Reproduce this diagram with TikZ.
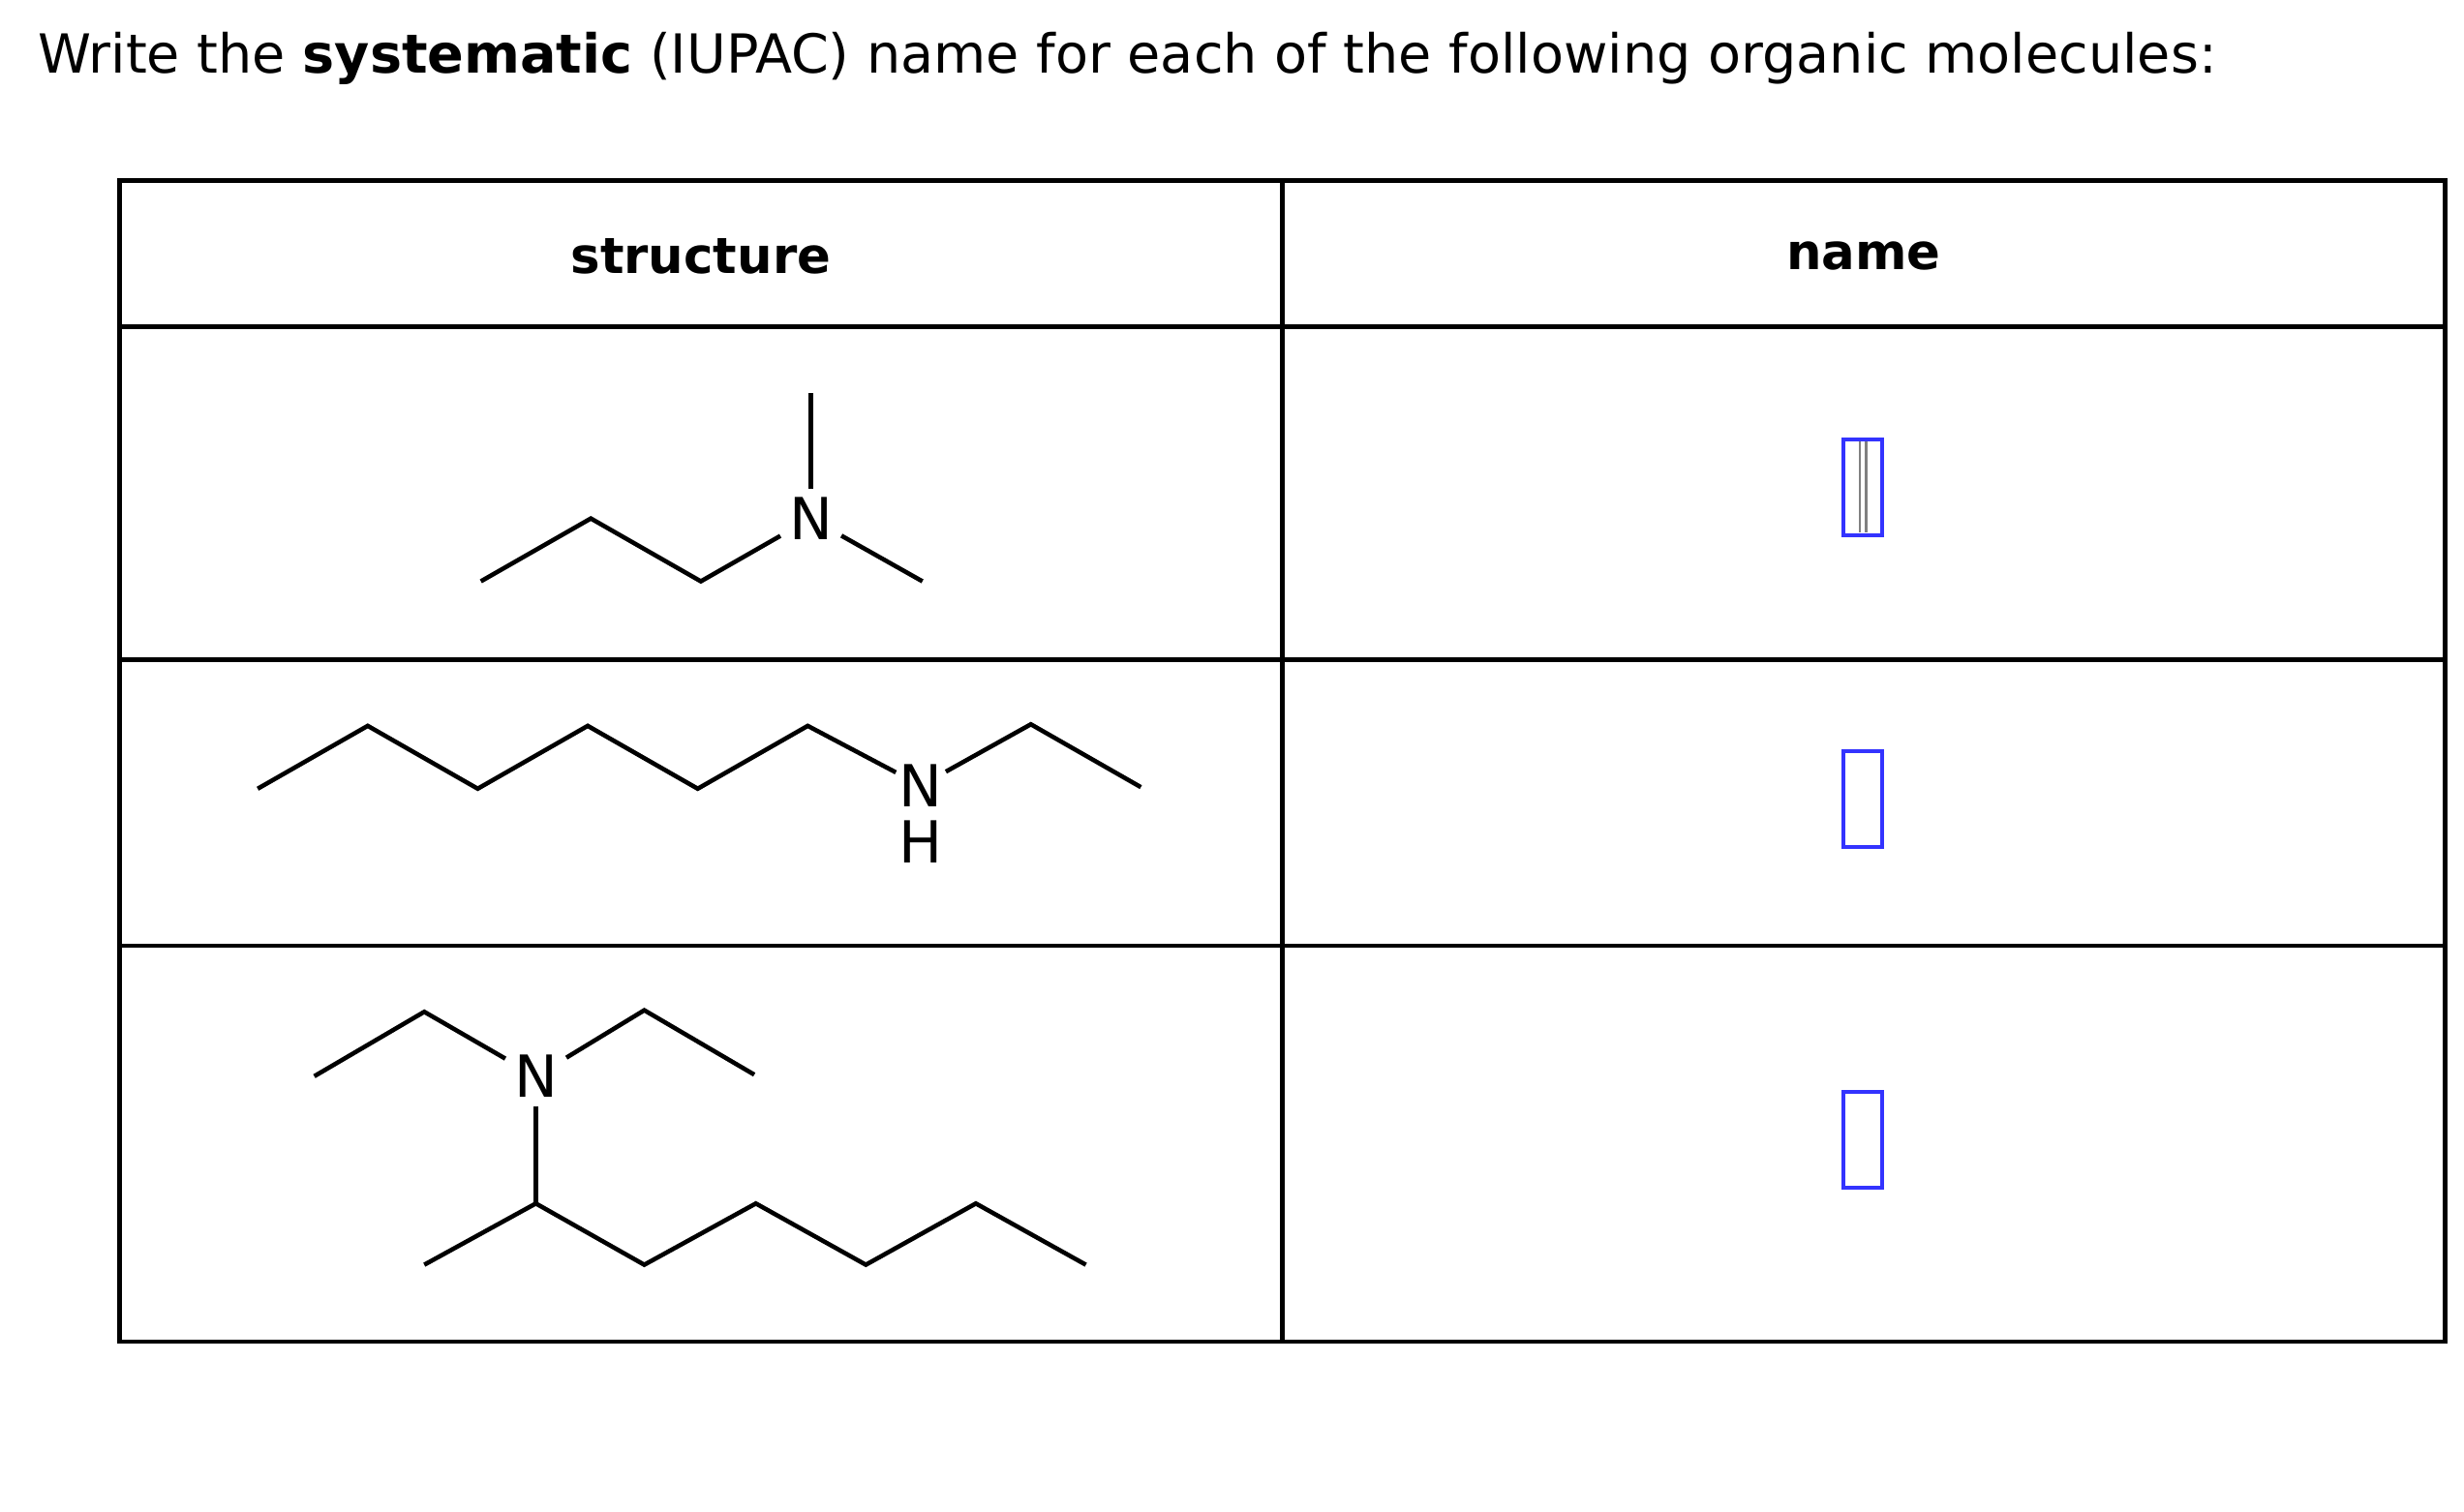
\documentclass[tikz,border=0pt]{standalone}
\usepackage{fontspec}
\setmainfont{DejaVu Sans}
\begin{document}
\begin{tikzpicture}[x=0.02cm,y=-0.02cm,
  bond/.style={line width=1.6pt},
  grid/.style={line width=1.6pt},
  atom/.style={font=\fontsize{21}{21}\selectfont, inner sep=3pt},
  hdr/.style={font=\fontsize{18}{18}\selectfont\bfseries},
  ansbox/.style={draw=blue!80!white, line width=1.4pt, minimum width=25*0.02cm, minimum height=61*0.02cm, inner sep=0pt}]
\useasboundingbox (0,0) rectangle (1568,962);
\node[anchor=west, font=\fontsize{19.5}{19.5}\selectfont] (title) at (18,37) {Write the \textbf{systematic} (IUPAC) name for each of the following organic molecules:};
% table
\draw[grid] (76,115) rectangle (1556,854);
\draw[grid] (816,115) -- (816,854);
\foreach \y in {208,420,602} \draw[grid] (76,\y) -- (1556,\y);
\node[hdr] (h1) at (446,163) {structure};
\node[hdr] (h2) at (1186,163) {name};
% row 1
\node[atom] (n1) at (516,330) {N};
\coordinate (a1) at (306,370); \coordinate (a2) at (376,330); \coordinate (a3) at (446,370);
\coordinate (a4) at (516,250); \coordinate (a5) at (587,370);
\draw[bond] (a1) -- (a2) -- (a3) -- (n1);
\draw[bond] (n1) -- (a4);
\draw[bond] (n1) -- (a5);
% row 2
\node[atom, inner sep=1pt] (n2) at (586,500) {N};
\node[atom, inner sep=1pt] (h2h) at (586,536) {H};
\coordinate (b1) at (164,502); \coordinate (b2) at (234,462); \coordinate (b3) at (304,502);
\coordinate (b4) at (374,462); \coordinate (b5) at (444,502); \coordinate (b6) at (514,462);
\coordinate (b7) at (656,461); \coordinate (b8) at (726,501);
\draw[bond] (b1) -- (b2) -- (b3) -- (b4) -- (b5) -- (b6) -- (n2);
\draw[bond] (n2) -- (b7) -- (b8);
% row 3
\node[atom] (n3) at (341,685) {N};
\coordinate (c1) at (200,685); \coordinate (c2) at (270,644);
\coordinate (c3) at (410,643); \coordinate (c4) at (480,684);
\coordinate (c5) at (341,766); \coordinate (c6) at (270,805); \coordinate (c7) at (410,805);
\coordinate (c8) at (481,766); \coordinate (c9) at (551,805); \coordinate (c10) at (621,766);
\coordinate (c11) at (691,805);
\draw[bond] (c1) -- (c2) -- (n3);
\draw[bond] (n3) -- (c3) -- (c4);
\draw[bond] (n3) -- (c5);
\draw[bond] (c6) -- (c5) -- (c7) -- (c8) -- (c9) -- (c10) -- (c11);
% answer boxes
\node[ansbox] (ans1) at (1185.5,310) {};
\draw[line width=1pt, gray] (1183.5,281) -- (1183.5,339) (1187.5,281) -- (1187.5,339);
\node[ansbox] (ans2) at (1185.5,508.5) {};
\node[ansbox] (ans3) at (1185.5,725.5) {};
\end{tikzpicture}
\end{document}
